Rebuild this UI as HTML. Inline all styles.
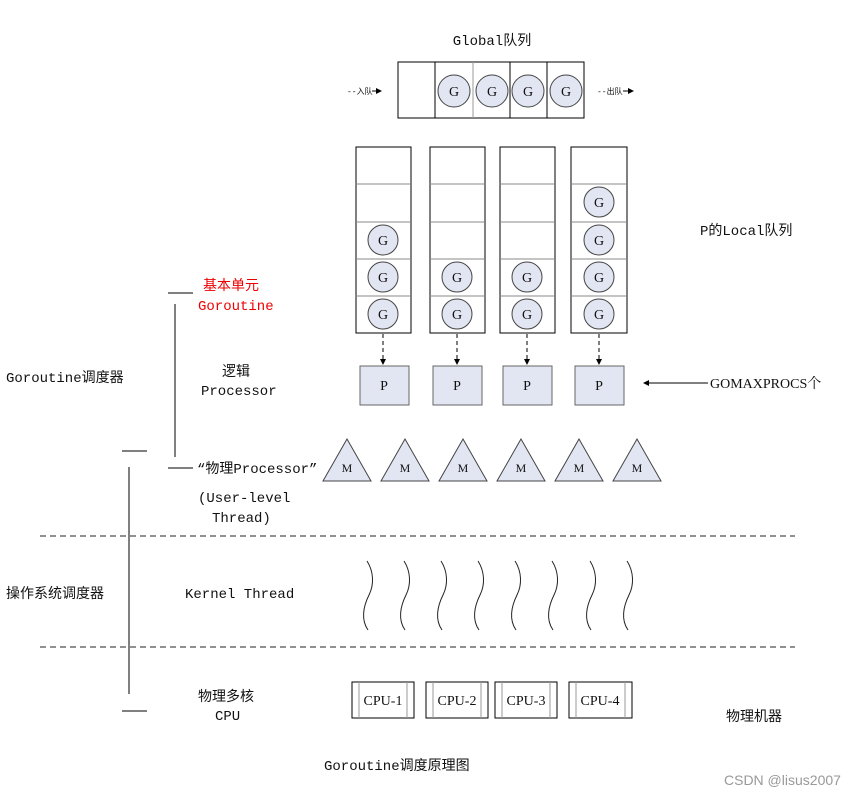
<!DOCTYPE html>
<html><head><meta charset="utf-8"><style>
html,body{margin:0;padding:0;background:#fff;}
svg{display:block;}
text{font-family:"Liberation Mono","Noto Sans CJK SC",monospace;font-size:14px;fill:#111;}
.s{font-family:"Liberation Serif","Noto Serif CJK SC",serif;font-size:14px;}
</style></head><body>
<svg width="861" height="796" viewBox="0 0 861 796" xmlns="http://www.w3.org/2000/svg">
<defs>
<marker id="ah" markerWidth="6" markerHeight="6" refX="5" refY="3" orient="auto"><path d="M0,0 L6,3 L0,6 z" fill="#000"/></marker>
</defs>
<!-- Global queue -->
<text x="492" y="45" text-anchor="middle">Global队列</text>
<rect x="398" y="62" width="186" height="56" fill="#fff" stroke="#000"/>
<line x1="435" y1="62" x2="435" y2="118" stroke="#000"/>
<line x1="473" y1="62" x2="473" y2="118" stroke="#999"/>
<line x1="510" y1="62" x2="510" y2="118" stroke="#000"/>
<line x1="547" y1="62" x2="547" y2="118" stroke="#000"/>
<g fill="#e1e6f2" stroke="#444">
<circle cx="454" cy="91" r="16"/><circle cx="492" cy="91" r="16"/><circle cx="528" cy="91" r="16"/><circle cx="566" cy="91" r="16"/>
</g>
<g text-anchor="middle">
<text class="s" x="454" y="96">G</text><text class="s" x="492" y="96">G</text><text class="s" x="528" y="96">G</text><text class="s" x="566" y="96">G</text>
</g>
<text x="347" y="94" style="font-size:8px">--入队</text>
<line x1="372" y1="91" x2="381" y2="91" stroke="#000" marker-end="url(#ah)"/>
<text x="597" y="94" style="font-size:8px">--出队</text>
<line x1="623" y1="91" x2="633" y2="91" stroke="#000" marker-end="url(#ah)"/>

<!-- Local queues -->
<g fill="#fff" stroke="#000">
<rect x="356" y="147" width="55" height="186"/>
<rect x="430" y="147" width="55" height="186"/>
<rect x="500" y="147" width="55" height="186"/>
<rect x="571" y="147" width="56" height="186"/>
</g>
<g stroke="#888">
<line x1="356" y1="184" x2="411" y2="184"/><line x1="356" y1="222" x2="411" y2="222"/><line x1="356" y1="259" x2="411" y2="259"/><line x1="356" y1="296" x2="411" y2="296"/>
<line x1="430" y1="184" x2="485" y2="184"/><line x1="430" y1="222" x2="485" y2="222"/><line x1="430" y1="259" x2="485" y2="259"/><line x1="430" y1="296" x2="485" y2="296"/>
<line x1="500" y1="184" x2="555" y2="184"/><line x1="500" y1="222" x2="555" y2="222"/><line x1="500" y1="259" x2="555" y2="259"/><line x1="500" y1="296" x2="555" y2="296"/>
<line x1="571" y1="184" x2="627" y2="184"/><line x1="571" y1="222" x2="627" y2="222"/><line x1="571" y1="259" x2="627" y2="259"/><line x1="571" y1="296" x2="627" y2="296"/>
</g>
<g fill="#e1e6f2" stroke="#444">
<circle cx="383" cy="240" r="15"/><circle cx="383" cy="277" r="15"/><circle cx="383" cy="314" r="15"/>
<circle cx="457" cy="277" r="15"/><circle cx="457" cy="314" r="15"/>
<circle cx="527" cy="277" r="15"/><circle cx="527" cy="314" r="15"/>
<circle cx="599" cy="202" r="15"/><circle cx="599" cy="240" r="15"/><circle cx="599" cy="277" r="15"/><circle cx="599" cy="314" r="15"/>
</g>
<g text-anchor="middle">
<text class="s" x="383" y="245">G</text><text class="s" x="383" y="282">G</text><text class="s" x="383" y="319">G</text>
<text class="s" x="457" y="282">G</text><text class="s" x="457" y="319">G</text>
<text class="s" x="527" y="282">G</text><text class="s" x="527" y="319">G</text>
<text class="s" x="599" y="207">G</text><text class="s" x="599" y="245">G</text><text class="s" x="599" y="282">G</text><text class="s" x="599" y="319">G</text>
</g>
<text x="700" y="235">P的Local队列</text>
<!-- dashed arrows -->
<g stroke="#000" stroke-dasharray="4,3" marker-end="url(#ah)">
<line x1="383" y1="334" x2="383" y2="364"/><line x1="457" y1="334" x2="457" y2="364"/><line x1="527" y1="334" x2="527" y2="364"/><line x1="599" y1="334" x2="599" y2="364"/>
</g>
<!-- P boxes -->
<g fill="#e1e6f2" stroke="#666">
<rect x="360" y="366" width="49" height="39"/><rect x="433" y="366" width="49" height="39"/><rect x="503" y="366" width="49" height="39"/><rect x="575" y="366" width="49" height="39"/>
</g>
<g text-anchor="middle">
<text class="s" x="384" y="390">P</text><text class="s" x="457" y="390">P</text><text class="s" x="527" y="390">P</text><text class="s" x="599" y="390">P</text>
</g>
<line x1="708" y1="383" x2="644" y2="383" stroke="#000" marker-end="url(#ah)"/>
<text x="710" y="388" class="s">GOMAXPROCS个</text>
<!-- M triangles -->
<g fill="#e1e6f2" stroke="#444">
<polygon points="347,439 323,481 371,481"/><polygon points="405,439 381,481 429,481"/><polygon points="463,439 439,481 487,481"/>
<polygon points="521,439 497,481 545,481"/><polygon points="579,439 555,481 603,481"/><polygon points="637,439 613,481 661,481"/>
</g>
<g text-anchor="middle">
<text class="s" x="347" y="472" style="font-size:12px">M</text><text class="s" x="405" y="472" style="font-size:12px">M</text><text class="s" x="463" y="472" style="font-size:12px">M</text>
<text class="s" x="521" y="472" style="font-size:12px">M</text><text class="s" x="579" y="472" style="font-size:12px">M</text><text class="s" x="637" y="472" style="font-size:12px">M</text>
</g>
<!-- left brackets -->
<g stroke="#000">
<line x1="168" y1="293" x2="193" y2="293"/><line x1="175" y1="304" x2="175" y2="457"/><line x1="168" y1="468" x2="193" y2="468"/>
<line x1="122" y1="451" x2="147" y2="451"/><line x1="129" y1="467" x2="129" y2="694"/><line x1="122" y1="711" x2="147" y2="711"/>
</g>
<text x="203" y="290" style="fill:#e00">基本单元</text>
<text x="198" y="310" style="fill:#e00">Goroutine</text>
<text x="6" y="382">Goroutine调度器</text>
<text x="222" y="376">逻辑</text>
<text x="201" y="395">Processor</text>
<text x="197" y="473">“物理Processor”</text>
<text x="198" y="502">(User-level</text>
<text x="212" y="522">Thread)</text>
<!-- dashed separators -->
<g stroke="#222" stroke-dasharray="6,4">
<line x1="40" y1="536" x2="795" y2="536"/><line x1="40" y1="647" x2="795" y2="647"/>
</g>
<text x="6" y="598">操作系统调度器</text>
<text x="185" y="598">Kernel Thread</text>
<!-- waves -->
<g fill="none" stroke="#222" stroke-width="1">
<path d="M367,561 C374,572 374,585 369,595 C363,607 361,620 368,630"/>
<path d="M404,561 C411,572 411,585 406,595 C400,607 398,620 405,630"/>
<path d="M441,561 C448,572 448,585 443,595 C437,607 435,620 442,630"/>
<path d="M478,561 C485,572 485,585 480,595 C474,607 472,620 479,630"/>
<path d="M515,561 C522,572 522,585 517,595 C511,607 509,620 516,630"/>
<path d="M552,561 C559,572 559,585 554,595 C548,607 546,620 553,630"/>
<path d="M590,561 C597,572 597,585 592,595 C586,607 584,620 591,630"/>
<path d="M627,561 C634,572 634,585 629,595 C623,607 621,620 628,630"/>
</g>
<!-- CPUs -->
<g fill="#fff" stroke="#000">
<rect x="352" y="682" width="62" height="36"/><rect x="426" y="682" width="62" height="36"/><rect x="495" y="682" width="62" height="36"/><rect x="569" y="682" width="63" height="36"/>
</g>
<g stroke="#999">
<line x1="359" y1="682" x2="359" y2="718"/><line x1="407" y1="682" x2="407" y2="718"/>
<line x1="433" y1="682" x2="433" y2="718"/><line x1="481" y1="682" x2="481" y2="718"/>
<line x1="502" y1="682" x2="502" y2="718"/><line x1="550" y1="682" x2="550" y2="718"/>
<line x1="576" y1="682" x2="576" y2="718"/><line x1="625" y1="682" x2="625" y2="718"/>
</g>
<g text-anchor="middle">
<text class="s" x="383" y="705">CPU-1</text><text class="s" x="457" y="705">CPU-2</text><text class="s" x="526" y="705">CPU-3</text><text class="s" x="600" y="705">CPU-4</text>
</g>
<text x="198" y="701">物理多核</text>
<text x="215" y="720">CPU</text>
<text x="726" y="721">物理机器</text>
<text x="324" y="770">Goroutine调度原理图</text>
<text x="724" y="785" style="font-family:'Liberation Sans',sans-serif;font-size:14px;fill:#999">CSDN @lisus2007</text>
</svg>
</body></html>
